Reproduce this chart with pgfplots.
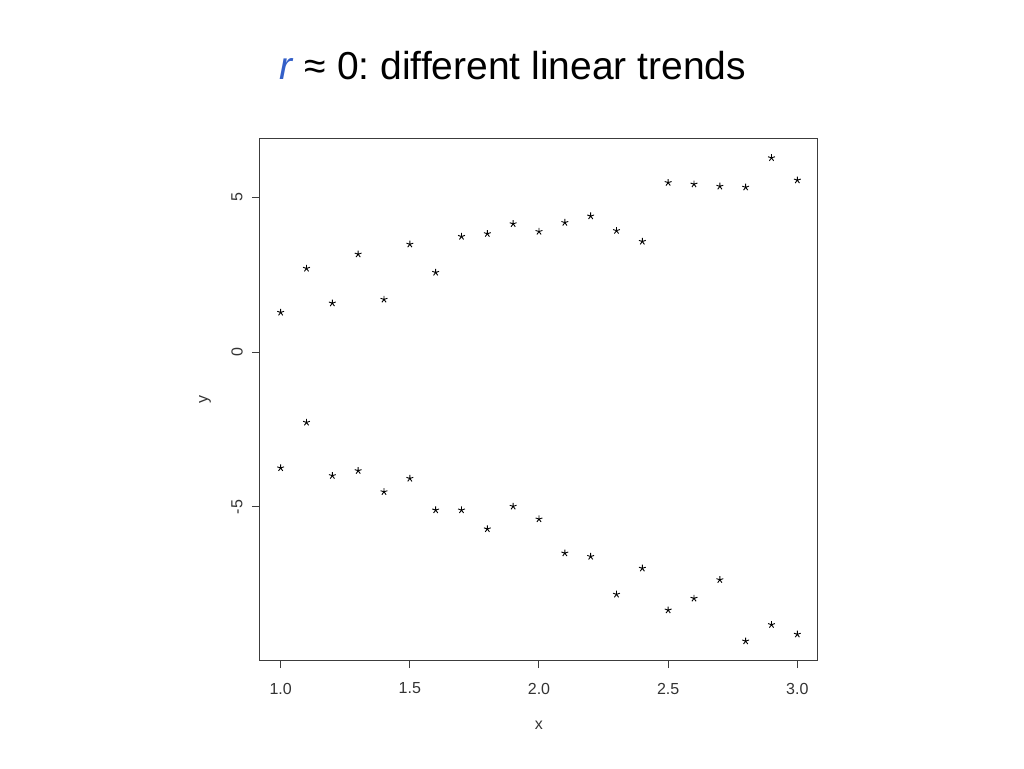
\documentclass[border=0pt]{standalone}
\usepackage{pgfplots}
\pgfplotsset{compat=1.18}
\usepackage{fontspec}
\setmainfont{Liberation Sans}
\definecolor{rblue}{RGB}{51,95,200}
\definecolor{boxgray}{RGB}{60,60,60}
\frenchspacing

\begin{document}
\begin{tikzpicture}
\path[use as bounding box] (0,0) rectangle (512pt,384pt);

\node[anchor=base, font=\fontsize{19.5}{23}\selectfont] at (256.5pt,344.5pt)
  {{\color{rblue}\textit{r}} ≈ 0: different linear trends};

\begin{axis}[%
at={(130pt,54pt)},
anchor=south west,
width=279pt,
height=261pt,
scale only axis,
xmin=0.92, xmax=3.08,
ymin=-9.94, ymax=6.91,
axis line style={boxgray, line width=0.5pt},
tick style={boxgray, line width=0.5pt},
tick align=outside,
major tick length=4pt,
xtick pos=left,
ytick pos=left,
xtick={1,1.5,2,2.5,3},
xticklabels={1.0,1.5,2.0,2.5,3.0},
ytick={-5,0,5},
yticklabels={-5,0,5},
/pgf/number format/assume math mode=true,
tick label style={font=\fontsize{8}{9.6}\selectfont, text=black!80},
xticklabel style={anchor=center, yshift=-10.25pt},
yticklabel style={xshift=-7.5pt, rotate=90, anchor=center},
xlabel={x},
ylabel={y},
label style={font=\fontsize{8}{9.6}\selectfont, text=black!80},
xlabel style={at={(axis description cs:0.5,0)}, anchor=center, yshift=-32.5pt},
ylabel style={at={(axis description cs:0,0.5)}, anchor=center, yshift=27.5pt},
]
% upper series
\addplot [only marks, mark=star, mark size=1.8pt, black, line width=0.45pt]
coordinates{
(1.0,1.28) (1.1,2.70) (1.2,1.58) (1.3,3.16) (1.4,1.70) (1.5,3.48)
(1.6,2.57) (1.7,3.73) (1.8,3.82) (1.9,4.14) (2.0,3.89) (2.1,4.18)
(2.2,4.39) (2.3,3.92) (2.4,3.57) (2.5,5.47) (2.6,5.42) (2.7,5.35)
(2.8,5.32) (2.9,6.27) (3.0,5.55)
};
% lower series
\addplot [only marks, mark=star, mark size=1.8pt, black, line width=0.45pt]
coordinates{
(1.0,-3.74) (1.1,-2.27) (1.2,-3.99) (1.3,-3.83) (1.4,-4.51) (1.5,-4.08)
(1.6,-5.10) (1.7,-5.10) (1.8,-5.71) (1.9,-4.98) (2.0,-5.39) (2.1,-6.49)
(2.2,-6.60) (2.3,-7.82) (2.4,-6.98) (2.5,-8.33) (2.6,-7.95) (2.7,-7.35)
(2.8,-9.33) (2.9,-8.80) (3.0,-9.11)
};
\end{axis}
\end{tikzpicture}
\end{document}
